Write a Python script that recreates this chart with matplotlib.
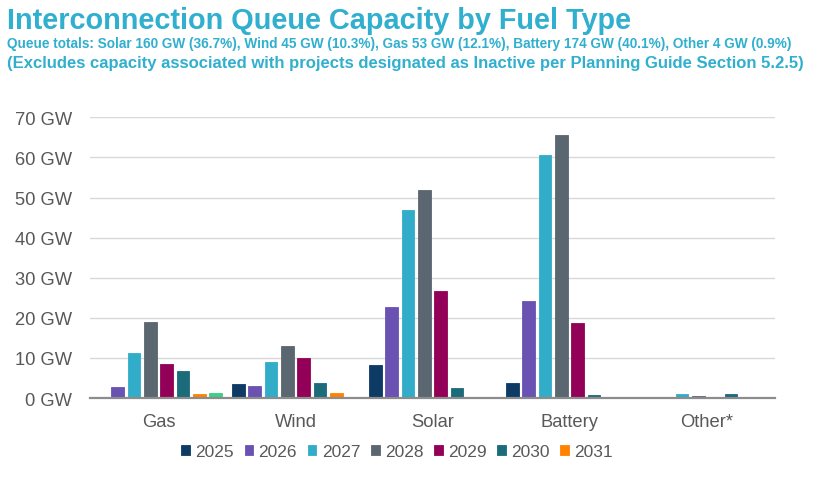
import numpy as np
import matplotlib
matplotlib.use("Agg")
import matplotlib.pyplot as plt

plt.rcParams["font.family"] = ["Liberation Sans", "DejaVu Sans"]

CATEGORIES = ["Gas", "Wind", "Solar", "Battery", "Other*"]
YEARS = ["2025", "2026", "2027", "2028", "2029", "2030", "2031", "2032"]
# GW per fuel type, one list per queue year (Gas, Wind, Solar, Battery, Other)
V2025 = [0.0, 3.5, 8.3, 3.7, 0.1]
V2026 = [2.7, 3.0, 22.6, 24.1, 0.0]
V2027 = [11.2, 9.0, 47.0, 60.5, 0.9]
V2028 = [18.9, 12.9, 51.9, 65.6, 0.5]
V2029 = [8.4, 10.0, 26.6, 18.8, 0.35]
V2030 = [6.7, 3.7, 2.6, 0.8, 1.0]
V2031 = [0.9, 1.2, 0.0, 0.2, 0.0]
V2032 = [1.2, 0.0, 0.0, 0.0, 0.0]
SERIES = [V2025, V2026, V2027, V2028, V2029, V2030, V2031, V2032]
COLORS = ["#0E3A66", "#6A52B3", "#31ADC9", "#5A6670", "#930058",
          "#1B6B7B", "#FF8300", "#3CCF88"]
LEGEND_YEARS = 7  # 2032 is not shown in the source legend

TITLE = "Interconnection Queue Capacity by Fuel Type"
SUB1 = ("Queue totals: Solar 160 GW (36.7%), Wind 45 GW (10.3%), Gas 53 GW (12.1%), "
        "Battery 174 GW (40.1%), Other 4 GW (0.9%)")
SUB2 = "(Excludes capacity associated with projects designated as Inactive per Planning Guide Section 5.2.5)"

TEAL = "#30AFCF"
GREY = "#595959"

fig = plt.figure(figsize=(8.24, 4.89), dpi=100)
ax = fig.add_axes([0.1092, 0.184, 0.8313, 0.574])

x = np.arange(len(CATEGORIES))
slot = 0.119
w = 0.092
bars = []
for k, (vals, c) in enumerate(zip(SERIES, COLORS)):
    b = ax.bar(x + (k - 3.5) * slot, vals, w, color=c, edgecolor=c,
               linewidth=0.6, label=YEARS[k], zorder=3)
    bars.append(b)

ax.set_xlim(-0.5, len(CATEGORIES) - 0.5)
ax.set_ylim(0, 70)
ax.set_yticks(np.arange(0, 71, 10))
ax.set_yticklabels([f"{v} GW" for v in range(0, 71, 10)], fontsize=13.2, color=GREY)
ax.set_xticks(x)
ax.set_xticklabels(CATEGORIES, fontsize=13.2, color=GREY)
ax.tick_params(axis="both", length=0)
ax.tick_params(axis="y", pad=13)
ax.tick_params(axis="x", pad=11)
ax.grid(axis="y", color="#D9D9D9", linewidth=1.0, zorder=0)
for s in ["top", "right", "left"]:
    ax.spines[s].set_visible(False)
ax.spines["bottom"].set_color("#8C8C8C")
ax.spines["bottom"].set_linewidth(1.6)
ax.spines["bottom"].set_zorder(4)

fig.legend(bars[:LEGEND_YEARS], YEARS[:LEGEND_YEARS], loc="center",
           bbox_to_anchor=(0.482, 0.074), ncol=LEGEND_YEARS, frameon=False,
           fontsize=12.5, labelcolor=GREY, handlelength=0.5, handleheight=0.5,
           handletextpad=0.3, columnspacing=0.62)

fig.text(0.009, 0.941, TITLE, fontsize=20.8, fontweight="bold", color=TEAL,
         va="baseline", ha="left")
fig.text(0.009, 0.902, SUB1, fontsize=9.85, fontweight="bold", color=TEAL,
         va="baseline", ha="left")
fig.text(0.009, 0.861, SUB2, fontsize=12.0, fontweight="bold", color=TEAL,
         va="baseline", ha="left")

fig.savefig("out.png", dpi=100)
